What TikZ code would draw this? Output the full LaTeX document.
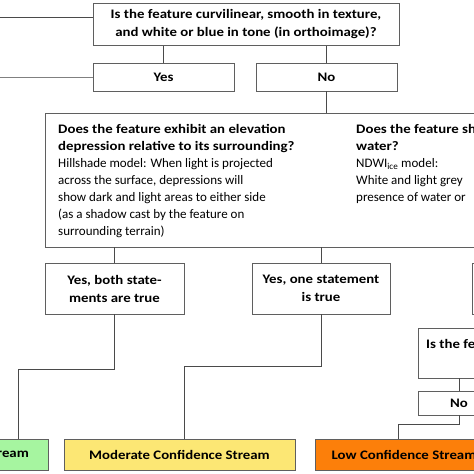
\documentclass[tikz,border=0pt]{standalone}
\usepackage{fontspec}
\setmainfont{Carlito}[BoldFeatures={FakeStretch=1.14}]
\definecolor{bordergray}{HTML}{5F5F5F}
\definecolor{linegray}{HTML}{4A4A4A}
\definecolor{hiGreen}{HTML}{A6F5A0}
\definecolor{modYellow}{HTML}{FCE774}
\definecolor{lowOrange}{HTML}{FC7F0A}
\begin{document}
\begin{tikzpicture}[x=1pt,y=-1pt,
  box/.style={draw=bordergray, fill=white, line width=0.9pt, inner sep=0pt, align=center,
    font=\bfseries\fontsize{13}{18}\selectfont},
  body/.style={inner sep=0pt, align=left, anchor=north west, font=\fontsize{13}{17}\selectfont},
  conn/.style={draw=linegray, line width=0.9pt}]
\useasboundingbox (0,0) rectangle (474,474);
\clip (0,0) rectangle (474,474);
% top question
\node[box, minimum width=306pt, minimum height=42pt] (q1) at (246,24.5)
  {Is the feature curvilinear, smooth in texture,\\and white or blue in tone (in orthoimage)?};
\node[box, minimum width=141pt, minimum height=28pt] (yes1) at (163.5,77) {Yes};
\node[box, minimum width=141pt, minimum height=28pt] (no1) at (326.5,77) {No};
\coordinate (inA) at (-10,17);
\coordinate (inB) at (-10,77);
\draw[conn] (inA) -- (inA -| q1.west);
\draw[conn, draw=gray] (inB) -- (yes1.west);
\draw[conn] (q1.south -| yes1.north) -- (yes1.north);
\draw[conn] (q1.south -| no1.north) -- (no1.north);
% big question box
\node[box, minimum width=475pt, minimum height=134pt] (q2) at (282.5,180) {};
\draw[conn] (no1.south) -- (no1.south |- q2.north);
\node[body] (q2a) at (58,124)
  {\textbf{Does the feature exhibit an elevation}\\
   \textbf{depression relative to its surrounding?}\\
   Hillshade model: When light is projected\\
   across the surface, depressions will\\
   show dark and light areas to either side\\
   (as a shadow cast by the feature on\\
   surrounding terrain)};
\node[body] (q2b) at (356,124)
  {\textbf{Does the feature show}\\
   \textbf{water?}\\
   NDWI\textsubscript{ice} model:\\
   White and light grey\\
   presence of water or};
% answers
\node[box, minimum width=139pt, minimum height=51pt] (yb) at (114.5,288.5) {Yes, both state-\\ments are true};
\node[box, minimum width=138pt, minimum height=51pt] (yo) at (321,288.5) {Yes, one statement\\is true};
\node[box, minimum width=120pt, minimum height=51pt] (nn) at (532,288.5) {};
\draw[conn] (q2.south -| yb.north) -- (yb.north);
\draw[conn] (q2.south -| yo.north) -- (yo.north);
% sub question
\node[box, minimum width=150pt, minimum height=50pt] (q3) at (493,353) {};
\node[body, font=\bfseries\fontsize{13}{17}\selectfont] (q3t) at (426,339) {Is the feature};
\node[box, minimum width=82pt, minimum height=24pt] (no3) at (459,403) {No};
\draw[conn] (no3.north |- q3.south) -- (no3.north);
% results
\node[box, fill=hiGreen, minimum width=186pt, minimum height=31pt] (hi) at (-45,454.5) {High Confidence Stream};
\node[box, fill=modYellow, minimum width=231pt, minimum height=31pt] (mod) at (179.5,454.5) {Moderate Confidence Stream};
\node[box, fill=lowOrange, minimum width=178pt, minimum height=31pt] (low) at (404,454.5) {Low Confidence Stream};
\coordinate (hiIn) at (18,439);
\coordinate (modIn) at (184,439);
\coordinate (lowIn) at (398,439);
\draw[conn] (yb.south) -- ++(0,55) -| (hiIn);
\draw[conn] (yo.south) -- ++(0,52) -| (modIn);
\draw[conn] (no3.south) -- ++(0,9) -| (lowIn);
\end{tikzpicture}
\end{document}
